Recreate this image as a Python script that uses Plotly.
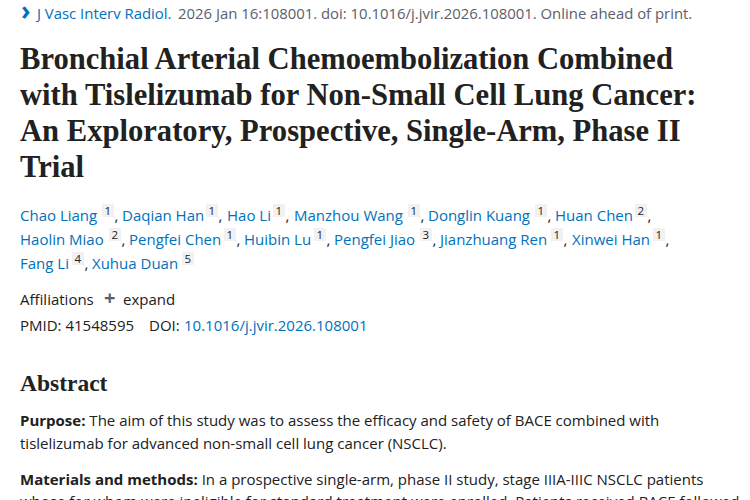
import plotly.graph_objs as go

BLUE = '#0071bc'
DARK = '#212121'
GREY = '#5b616b'
SERIF = 'Liberation Serif'
SANS = 'Open Sans'
BODY_SIZE = 15

# citation line
citation_text = ['J Vasc Interv Radiol.', '2026 Jan 16:108001. doi: 10.1016/j.jvir.2026.108001. Online ahead of print.']
citation_x = [37, 178]

title_lines = [
    'Bronchial Arterial Chemoembolization Combined',
    'with Tislelizumab for Non-Small Cell Lung Cancer:',
    'An Exploratory, Prospective, Single-Arm, Phase II',
    'Trial',
]
title_y = [59, 95, 131, 167]

# authors, one entry per name
author_names = ['Chao Liang', 'Daqian Han', 'Hao Li', 'Manzhou Wang', 'Donglin Kuang', 'Huan Chen',
                'Haolin Miao', 'Pengfei Chen', 'Huibin Lu', 'Pengfei Jiao', 'Jianzhuang Ren', 'Xinwei Han',
                'Fang Li', 'Xuhua Duan']
author_x = [20, 122, 227, 294, 428, 555,
            20, 129, 244, 334, 440, 572,
            20, 92]
author_y = [215] * 6 + [239] * 6 + [263] * 2
author_sup = ['1', '1', '1', '1', '1', '2', '2', '1', '1', '3', '1', '1', '4', '5']
sup_x = [102, 206, 273, 408, 535, 635,
         109, 224, 314, 420, 551, 653,
         72, 182]

body_lines = [
    '<b>Purpose:</b> The aim of this study was to assess the efficacy and safety of BACE combined with',
    'tislelizumab for advanced non-small cell lung cancer (NSCLC).',
    '<b>Materials and methods:</b> In a prospective single-arm, phase II study, stage IIIA-IIIC NSCLC patients',
]
body_y = [420, 443, 479]
# this line runs off the bottom of the page
last_line = 'whose for whom were ineligible for standard treatment were enrolled. Patients received BACE followed'

fig = go.Figure()


def add_text(x, y, text, color=DARK, size=BODY_SIZE, family=SANS, position='middle right'):
    fig.add_trace(go.Scatter(x=x, y=y, text=text, mode='text', textposition=position,
                             textfont=dict(color=color, size=size, family=family),
                             hoverinfo='skip', showlegend=False))


add_text([21], [11], ['<b>›</b>'], BLUE, 26)
add_text(citation_x[:1], [13], citation_text[:1], BLUE, 14.9)
add_text(citation_x[1:], [13], citation_text[1:], GREY, 14.9)
add_text([20] * 4, title_y, ['<b>%s</b>' % t for t in title_lines], DARK, 30.6, SERIF)
add_text(author_x, author_y, author_names, BLUE)

# grey boxes behind the affiliation numbers
for sx, ay in zip(sup_x, author_y):
    fig.add_shape(type='rect', x0=sx, x1=sx + 12, y0=ay - 13, y1=ay,
                  fillcolor='#f1f1f1', line_width=0, layer='below')
add_text([sx + 2.5 for sx in sup_x], [ay - 5 for ay in author_y], author_sup, DARK, 11.5)

# commas after the numbers, none after the last name
add_text([sx + 12.5 for sx in sup_x[:-1]], author_y[:-1], [','] * 13, DARK)

add_text([20, 123], [299, 299], ['Affiliations', 'expand'], DARK)
add_text([104], [298], ['<b>+</b>'], GREY, 20)
add_text([20, 149], [325, 325], ['PMID: 41548595', 'DOI:'], DARK)
add_text([184], [325], ['10.1016/j.jvir.2026.108001'], BLUE)
add_text([20], [383], ['<b>Abstract</b>'], DARK, 23.5, SERIF)
add_text([20] * 3, body_y, body_lines, DARK)
add_text([20], [494], [last_line], DARK, position='bottom right')

# y range is 2 px off so that the text middle lands on the values above
fig.update_xaxes(range=[0, 750], visible=False, fixedrange=True)
fig.update_yaxes(range=[498, -2], visible=False, fixedrange=True)
fig.update_layout(width=750, height=500, margin=dict(l=0, r=0, t=0, b=0),
                  plot_bgcolor='white', paper_bgcolor='white')

# drop the default page margin, the citation line sits in the top 8 px
fig.write_html("out.html", config=dict(displayModeBar=False),
               post_script="document.body.style.margin = '0';")
